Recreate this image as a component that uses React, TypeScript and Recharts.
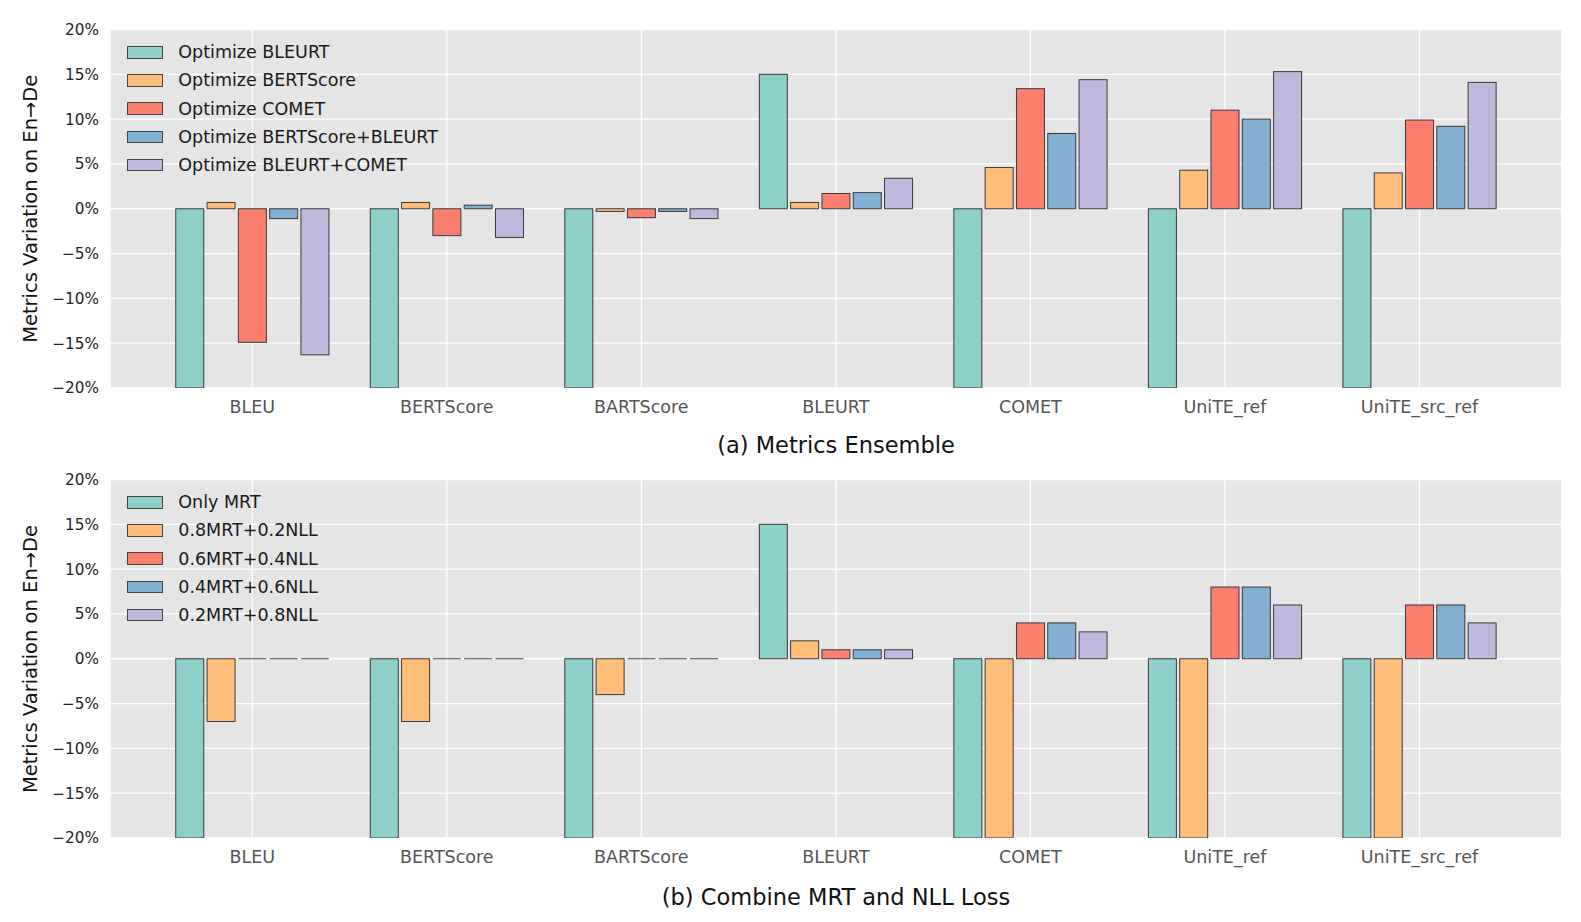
import React from 'react';
import { BarChart, Bar, XAxis, YAxis, CartesianGrid, Legend } from 'recharts';

const categories = ['BLEU', 'BERTScore', 'BARTScore', 'BLEURT', 'COMET', 'UniTE_ref', 'UniTE_src_ref'];

// (a) Metrics Ensemble
const ensembleNames = [
  'Optimize BLEURT',
  'Optimize BERTScore',
  'Optimize COMET',
  'Optimize BERTScore+BLEURT',
  'Optimize BLEURT+COMET',
];
const optBleurt = [-20, -20, -20, 15, -20, -20, -20];
const optBertscore = [0.7, 0.7, -0.3, 0.7, 4.6, 4.3, 4.0];
const optComet = [-14.9, -3.0, -1.0, 1.7, 13.4, 11.0, 9.9];
const optBertBleurt = [-1.1, 0.4, -0.3, 1.8, 8.4, 10.0, 9.2];
const optBleurtComet = [-16.3, -3.2, -1.1, 3.4, 14.4, 15.3, 14.1];

// (b) Combine MRT and NLL Loss
const lossNames = ['Only MRT', '0.8MRT+0.2NLL', '0.6MRT+0.4NLL', '0.4MRT+0.6NLL', '0.2MRT+0.8NLL'];
const onlyMrt = [-20, -20, -20, 15, -20, -20, -20];
const mrt08 = [-7, -7, -4, 2, -20, -20, -20];
const mrt06 = [0, 0, 0, 1, 4, 8, 6];
const mrt04 = [0, 0, 0, 1, 4, 8, 6];
const mrt02 = [0, 0, 0, 1, 3, 6, 4];

const yTicks = [-20, -15, -10, -5, 0, 5, 10, 15, 20];
const COLORS = ['#8ECFC9', '#FFBE7A', '#FA7F6F', '#82B0D2', '#BEB8DC'];

const FONT = '"DejaVu Sans", sans-serif';
const KEYS = ['s0', 's1', 's2', 's3', 's4'];

function buildRows(series: number[][]) {
  return categories.map((name, i) => {
    const row: Record<string, any> = { name };
    series.forEach((s, k) => {
      row[KEYS[k]] = s[i];
    });
    return row;
  });
}

function formatPct(v: number) {
  return (v < 0 ? '\u2212' : '') + Math.abs(v) + '%';
}

// zero-height bars are drawn as a flat edge line, like matplotlib does
function BarShape(props: any) {
  const { x, y, width, height, fill } = props;
  if (!height || Math.abs(height) < 0.5) {
    return <line x1={x} x2={x + width} y1={y} y2={y} stroke="#444" strokeWidth={1} />;
  }
  const top = height < 0 ? y + height : y;
  return (
    <rect x={x} y={top} width={width} height={Math.abs(height)} fill={fill} stroke="#3a3a3a" strokeWidth={1} />
  );
}

// keep the series order (recharts sorts legend items by name otherwise)
function makeLegend(names: string[]) {
  return function LegendBox() {
    return (
      <div style={{ fontFamily: FONT }}>
        {names.map((n, k) => (
          <div key={n} style={{ display: 'flex', alignItems: 'center', height: 28.2 }}>
            <div
              style={{
                width: 35.4,
                height: 12.7,
                boxSizing: 'border-box',
                background: COLORS[k],
                border: '1px solid #444',
              }}
            />
            <span style={{ marginLeft: 15.6, fontSize: 17.5, color: '#1a1a1a', whiteSpace: 'nowrap' }}>{n}</span>
          </div>
        ))}
      </div>
    );
  };
}

interface PanelProps {
  names: string[];
  series: number[][];
}

function Panel({ names, series }: PanelProps) {
  const data = buildRows(series);
  return (
    <BarChart
      width={1581}
      height={420}
      data={data}
      margin={{ top: 29.5, right: 19.3, bottom: 0, left: 0 }}
      barCategoryGap={20.75}
      barGap={3.3}
    >
      <CartesianGrid fill="#E5E5E5" stroke="#ffffff" strokeWidth={1.3} vertical horizontal />
      <XAxis
        dataKey="name"
        height={32}
        interval={0}
        padding={{ left: 45, right: 45 }}
        axisLine={false}
        tickLine={false}
        tickSize={0}
        tickMargin={13}
        tick={{ fontSize: 17.5, fill: '#555555', fontFamily: FONT }}
      />
      <YAxis
        width={110}
        domain={[-20, 20]}
        ticks={yTicks}
        allowDataOverflow
        axisLine={false}
        tickLine={false}
        tickSize={0}
        tickMargin={11}
        tickFormatter={formatPct}
        tick={{ fontSize: 15.3, fill: '#222222', fontFamily: FONT }}
      />
      <Legend
        layout="vertical"
        align="center"
        verticalAlign="middle"
        content={makeLegend(names)}
        wrapperStyle={{ left: 127.3, top: 38.2, width: 'auto', height: 'auto' }}
      />
      {names.map((n, k) => (
        <Bar
          key={n}
          dataKey={KEYS[k]}
          name={n}
          fill={COLORS[k]}
          shape={BarShape}
          isAnimationActive={false}
        />
      ))}
    </BarChart>
  );
}

export default function App() {
  return (
    <div style={{ position: 'absolute', left: 0, top: 0, width: 1581, height: 922, background: '#fff' }}>
      <div style={{ position: 'absolute', left: 0, top: 0 }}>
        <Panel names={ensembleNames} series={[optBleurt, optBertscore, optComet, optBertBleurt, optBleurtComet]} />
      </div>
      <div style={{ position: 'absolute', left: 0, top: 450 }}>
        <Panel names={lossNames} series={[onlyMrt, mrt08, mrt06, mrt04, mrt02]} />
      </div>
      <svg
        width={1581}
        height={922}
        style={{ position: 'absolute', left: 0, top: 0, pointerEvents: 'none' }}
        fontFamily={FONT}
      >
        <text transform="translate(36.5, 208.75) rotate(-90)" textAnchor="middle" fontSize={19.5} fill="#111">
          Metrics Variation on En→De
        </text>
        <text transform="translate(36.5, 659) rotate(-90)" textAnchor="middle" fontSize={19.5} fill="#111">
          Metrics Variation on En→De
        </text>
        <text x={836} y={453} textAnchor="middle" fontSize={22.5} fill="#111">
          (a) Metrics Ensemble
        </text>
        <text x={836} y={905} textAnchor="middle" fontSize={22.5} fill="#111">
          (b) Combine MRT and NLL Loss
        </text>
      </svg>
    </div>
  );
}
